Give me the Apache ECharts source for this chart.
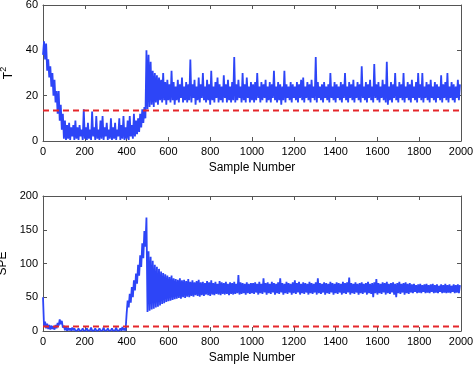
<!DOCTYPE html>
<html>
<head>
<meta charset="utf-8">
<script src="https://cdn.jsdelivr.net/npm/echarts@6/dist/echarts.min.js"></script>
<style>html,body{margin:0;padding:0;background:#fff}#c{width:474px;height:365px}</style>
</head>
<body>
<div id="c"></div>
<script>
// Sample step between stored values
var STEP = 5;
var xTicks = [0, 200, 400, 600, 800, 1000, 1200, 1400, 1600, 1800, 2000];
var t2Ticks = [0, 20, 40, 60];
var speTicks = [0, 50, 100, 150, 200];
var t2Limit = 13.5;
var speLimit = 6.5;

// T^2 statistic, samples 0..495
var t2Seg1 = [38,44,36,43,31,36,28,33,24,30,20,27,17,22,12,22,9,16,5,12,
1,9,0.5,7,1,8,0.5,6,2,7,0.5,9,1,6,0.5,7,2,5,0.5,14,
1,6,0.5,8,1,5,0.5,13,2,6,0.5,11,1,5,0.5,9,1,11,0.5,6,
2,8,0.5,5,1,10,0.5,6,1,8,0.5,5,2,10,0.5,7,1,11,0.5,6,
1,9,0.5,11,2,7,1,12,2,9,3,10,4,12,6,14,8,15,10,40];
// samples 500..995
var t2Seg2 = [14,38,15,35,16,31,15,30,17,29,16,28,18,27,17,30,18,26,16,27,
18,25,17,31,18,26,16,24,18,27,17,25,19,28,17,24,18,26,17,25,
18,36,17,25,19,27,16,24,18,28,17,25,19,30,18,24,17,27,18,25,
16,31,18,24,17,26,19,28,17,25,18,24,17,29,19,25,17,27,18,24,
17,26,18,37,17,25,18,27,19,24,17,30,18,25,17,28,19,24,17,26];
// samples 1000..1495
var t2Seg3 = [18,25,17,26,18,30,19,24,17,26,18,25,19,27,17,24,18,26,17,25,
19,31,18,24,17,26,18,25,16,24,18,31,17,25,19,24,18,26,17,25,
19,24,18,26,17,25,19,27,18,28,17,24,19,26,18,25,17,27,19,24,
18,37,17,26,19,24,18,25,17,26,19,24,18,25,17,30,19,24,18,26,
17,25,19,24,18,26,17,25,19,30,18,24,17,26,19,25,18,27,17,24];
// samples 1500..1995
var t2Seg4 = [19,26,18,25,17,33,19,24,18,26,17,25,19,27,18,24,17,34,19,25,
18,26,17,24,19,27,18,25,17,35,16,24,18,26,17,25,19,30,18,24,
17,26,19,25,18,30,17,24,19,26,18,25,17,27,19,24,18,26,17,30,
19,25,18,30,17,24,19,26,18,25,17,27,19,24,18,26,17,25,19,24,
18,29,17,25,19,26,18,30,17,24,19,26,18,25,17,24,19,27,18,25];

// SPE statistic, samples 0..495
var speSeg1 = [50,6,14,4,11,3,9,2,8,3,7,2,9,4,12,8,17,10,15,5,
8,1,6,0.5,5,1,4,0.5,5,1,4,0.5,3,1,4,0.5,3,1,4,0.5,
3,1,4,0.5,3,1,5,0.5,3,1,4,0.5,3,1,4,0.5,3,1,5,0.5,
3,1,4,0.5,3,1,4,0.5,3,1,5,0.5,3,1,4,0.5,6,1,4,0.5,
25,45,35,55,42,65,50,75,60,85,70,98,82,112,95,130,108,148,125,168];
// samples 500..995
var speSeg2 = [28,118,30,110,32,104,33,98,35,95,36,92,38,88,40,86,41,84,43,82,
44,80,45,82,46,78,47,77,48,76,49,78,48,75,50,76,49,74,51,77,
50,73,52,75,51,72,53,74,52,76,51,72,53,73,52,71,54,74,53,72,
52,75,54,71,53,73,55,70,54,74,53,72,55,71,54,73,55,70,53,72,
55,71,54,73,55,70,56,83,54,72,55,71,56,70,54,72,56,70,55,71];
// samples 1000..1495
var speSeg3 = [56,71,55,72,57,70,54,73,56,70,55,78,57,71,54,72,56,70,55,73,
57,71,54,70,56,72,55,78,57,71,54,70,56,73,55,71,57,70,54,72,
56,75,55,71,57,73,54,70,56,72,55,71,57,70,54,73,56,71,55,70,
57,72,54,78,56,71,55,70,57,72,54,71,56,70,55,73,57,71,54,70,
56,72,55,71,57,70,54,73,56,71,55,72,57,79,54,71,56,70,55,72];
// samples 1500..1995
var speSeg4 = [57,70,54,71,56,72,55,70,57,71,54,73,56,70,55,71,50,72,56,77,
54,71,56,70,55,72,57,71,54,73,56,70,55,71,57,72,54,70,50,71,
56,73,55,70,57,71,54,72,56,70,55,71,57,69,56,70,58,68,56,69,
57,70,56,68,58,69,56,70,57,68,56,69,58,70,56,68,57,69,56,67,
58,69,56,68,57,70,56,68,57,69,56,67,58,69,56,68,57,69,56,68];

function toPairs(vals) {
  return vals.map(function (v, i) { return [i * STEP, v]; });
}
var t2Data = toPairs([].concat(t2Seg1, t2Seg2, t2Seg3, t2Seg4));
var speData = toPairs([].concat(speSeg1, speSeg2, speSeg3, speSeg4));

var FONT = 'Liberation Sans, Arial, Helvetica, sans-serif';
var BLUE = '#2d45f7';
var RED = '#e5262b';
var AXC = '#555555';
function plain(v) { return String(v); }

function xAx(grid, pos, showLabels) {
  return {
    type: 'value', gridIndex: grid, position: pos,
    min: xTicks[0], max: xTicks[xTicks.length - 1], interval: xTicks[1] - xTicks[0],
    axisLine: { show: true, onZero: false, lineStyle: { color: AXC, width: 1 } },
    axisTick: { show: true, inside: true, length: 4, lineStyle: { color: AXC } },
    axisLabel: { show: showLabels, color: '#000', fontSize: 11, fontFamily: FONT, margin: 5, formatter: plain },
    splitLine: { show: false },
    name: showLabels ? 'Sample Number' : '',
    nameLocation: 'middle', nameGap: 21,
    nameTextStyle: { color: '#000', fontSize: 12, fontFamily: FONT }
  };
}
function yAx(grid, pos, ticks, showLabels, name) {
  return {
    type: 'value', gridIndex: grid, position: pos,
    min: ticks[0], max: ticks[ticks.length - 1], interval: ticks[1] - ticks[0],
    axisLine: { show: true, onZero: false, lineStyle: { color: AXC, width: 1 } },
    axisTick: { show: true, inside: true, length: 4, lineStyle: { color: AXC } },
    axisLabel: { show: showLabels, color: '#000', fontSize: 11, fontFamily: FONT, margin: 5, formatter: plain },
    splitLine: { show: false },
    name: showLabels ? name : '',
    nameLocation: 'middle', nameGap: 28, nameRotate: 90,
    nameTextStyle: {
      color: '#000', fontSize: 12, fontFamily: FONT,
      rich: {
        b: { color: '#000', fontSize: 12, fontFamily: FONT, lineHeight: 16, verticalAlign: 'bottom' },
        s: { color: '#000', fontSize: 9, fontFamily: FONT, lineHeight: 16, verticalAlign: 'top', padding: [0, 0, 6, 0] }
      }
    }
  };
}

var chart = echarts.init(document.getElementById('c'), null, { renderer: 'canvas' });
chart.setOption({
  animation: false,
  backgroundColor: '#fff',
  grid: [
    { left: 43, top: 5, width: 418, height: 136, containLabel: false, outerBoundsMode: 'none' },
    { left: 43, top: 196, width: 418, height: 135, containLabel: false, outerBoundsMode: 'none' }
  ],
  xAxis: [xAx(0, 'bottom', true), xAx(0, 'top', false), xAx(1, 'bottom', true), xAx(1, 'top', false)],
  yAxis: [yAx(0, 'left', t2Ticks, true, '{b|T}{s|2}'), yAx(0, 'right', t2Ticks, false, ''),
          yAx(1, 'left', speTicks, true, 'SPE'), yAx(1, 'right', speTicks, false, '')],
  series: [
    { type: 'line', xAxisIndex: 0, yAxisIndex: 0, data: t2Data, showSymbol: false,
      lineStyle: { color: BLUE, width: 1.8 }, sampling: false, z: 2 },
    { type: 'line', xAxisIndex: 0, yAxisIndex: 0, data: [[0, t2Limit], [2000, t2Limit]], showSymbol: false,
      lineStyle: { color: RED, width: 2, type: [6, 4] }, z: 3 },
    { type: 'line', xAxisIndex: 2, yAxisIndex: 2, data: speData, showSymbol: false,
      lineStyle: { color: BLUE, width: 1.8 }, sampling: false, z: 2 },
    { type: 'line', xAxisIndex: 2, yAxisIndex: 2, data: [[0, speLimit], [2000, speLimit]], showSymbol: false,
      lineStyle: { color: RED, width: 2, type: [6, 4] }, z: 3 }
  ]
});
</script>
</body>
</html>
